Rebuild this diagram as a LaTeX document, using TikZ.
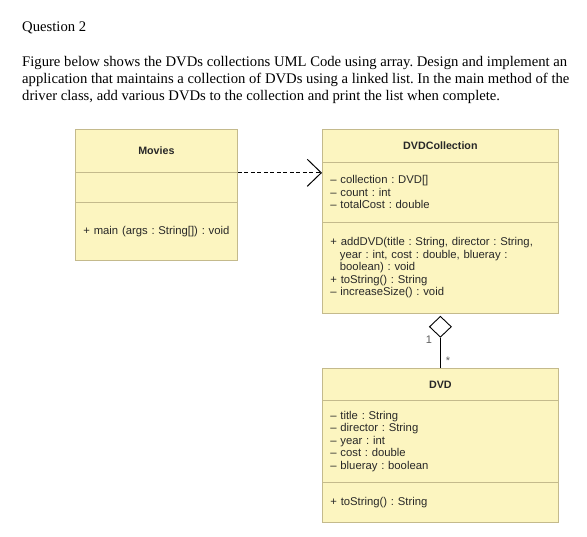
\documentclass[tikz,border=0pt]{standalone}
\usepackage{fontspec}
\setmainfont{Liberation Serif}
\newfontfamily\umlfont{Liberation Sans}
\usetikzlibrary{arrows.meta,shapes.geometric,calc}
\definecolor{umlfill}{RGB}{252,245,192}
\definecolor{umlline}{RGB}{196,186,140}
\definecolor{umltext}{RGB}{40,40,40}
\tikzset{
  comp/.style={draw=umlline, fill=umlfill, line width=0.8pt, rectangle, inner xsep=8pt, inner ysep=0pt,
    font=\umlfont\fontsize{11.3}{12.5}\selectfont, text=umltext, align=left},
  ctitle/.style={comp, align=center, font=\umlfont\bfseries\fontsize{10.7}{12.5}\selectfont},
  para/.style={anchor=base west, inner sep=0pt, font=\fontsize{14.67}{17}\selectfont},
  mult/.style={inner sep=0pt, font=\umlfont\fontsize{11}{11}\selectfont, text=umltext!75}
}
\begin{document}
\frenchspacing
\begin{tikzpicture}[x=1pt,y=-1pt]
\useasboundingbox (0,0) rectangle (587,537);
\fill[white] (0,0) rectangle (587,537);
% header text
\node[para] (q) at (22,32) {Question 2};
\node[para] (p1) at (22,67) {Figure below shows the DVDs collections UML Code using array. Design and implement an};
\node[para] (p2) at (22,84) {application that maintains a collection of DVDs using a linked list. In the main method of the};
\node[para] (p3) at (22,101) {driver class, add various DVDs to the collection and print the list when complete.};
% Movies
\node[ctitle, anchor=north west, minimum width=162pt, minimum height=43pt, text width=146pt] (movT) at (75,129) {Movies};
\node[comp, anchor=north west, minimum width=162pt, minimum height=30pt, text width=146pt] (movA) at (75,172) {};
\node[comp, anchor=north west, minimum width=162pt, minimum height=58pt, text width=146pt] (movM) at (75,202) {\mbox{+ main (args : String[]) : void}\hfill};
% DVDCollection
\node[ctitle, anchor=north west, minimum width=236pt, minimum height=33pt, text width=220pt] (colT) at (322,129) {DVDCollection};
\node[comp, anchor=north west, minimum width=236pt, minimum height=60pt, text width=220pt] (colA) at (322,162)
  {– collection : DVD[]\\– count : int\\– totalCost : double};
\node[comp, anchor=north west, minimum width=236pt, minimum height=91pt, text width=220pt] (colM) at (322,222)
  {+ addDVD(title : String, director : String,\\\hspace*{9.5pt}year : int, cost : double, blueray :\\\hspace*{9.5pt}boolean) : void\\+ toString() : String\\– increaseSize() : void};
% DVD
\node[ctitle, anchor=north west, minimum width=236pt, minimum height=32pt, text width=220pt] (dvdT) at (322,368) {DVD};
\node[comp, anchor=north west, minimum width=236pt, minimum height=82pt, text width=220pt] (dvdA) at (322,400)
  {– title : String\\– director : String\\– year : int\\– cost : double\\– blueray : boolean};
\node[comp, anchor=north west, minimum width=236pt, minimum height=40pt, text width=220pt] (dvdM) at (322,482) {+ toString() : String};
% dependency arrow
\draw[dashed, line width=0.8pt, dash pattern=on 4pt off 2.5pt, -{Straight Barb[length=14pt,width=27pt,line width=1pt]}]
  (movT.south east) -- (movT.south east -| colA.west);
% aggregation
\node[draw=black, fill=white, diamond, line width=0.9pt, minimum width=22pt, minimum height=21pt, inner sep=0pt, anchor=north] (dia) at ($(colM.south)+(0,2)$) {};
\draw[line width=0.9pt] (dia.south) -- (dia.south |- dvdT.north);
\node[mult] (m1) at (429,340) {1};
\node[mult] (m2) at (448,361) {*};
\end{tikzpicture}
\end{document}
